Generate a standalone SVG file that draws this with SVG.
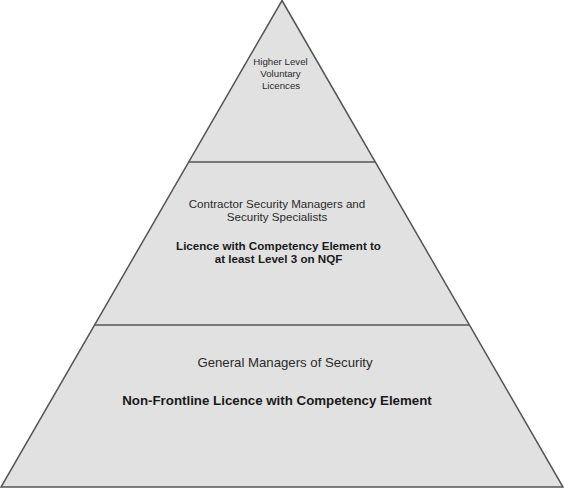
<svg xmlns="http://www.w3.org/2000/svg" width="564" height="488" viewBox="0 0 564 488">
<style>
.tier{fill:#e1e1e1;stroke:none}
.edge{fill:none;stroke:#555;stroke-width:1.5;stroke-linejoin:miter}
.div{stroke:#555;stroke-width:1.5}
text{font-family:"Liberation Sans",Arial,sans-serif;fill:#2a2a2a;text-anchor:middle}
.b{font-weight:bold;fill:#1a1a1a}
.s{font-size:9.7px}
</style>
<rect width="564" height="488" fill="#fff"/>
<g id="tier-top">
<polygon class="tier" points="282,0 375.5,162 188.5,162"/>
<text class="s" x="280.5" y="65">Higher Level</text>
<text class="s" x="280.5" y="77">Voluntary</text>
<text class="s" x="281" y="89">Licences</text>
</g>
<g id="tier-middle">
<polygon class="tier" points="188.5,162 375.5,162 469,325 94.5,325"/>
<text font-size="11.6" x="277" y="208">Contractor Security Managers and</text>
<text font-size="11.6" x="277" y="221">Security Specialists</text>
<text class="b" font-size="11.6" x="278.5" y="250">Licence with Competency Element to</text>
<text class="b" font-size="11.6" x="278.5" y="263">at least Level 3 on NQF</text>
</g>
<g id="tier-bottom">
<polygon class="tier" points="94.5,325 469,325 563,487 1,487"/>
<text font-size="13.2" x="285" y="367">General Managers of Security</text>
<text class="b" font-size="13.3" x="277" y="405">Non-Frontline Licence with Competency Element</text>
</g>
<g id="connectors">
<polygon class="edge" points="282,0.5 563,487 1,487"/>
<line class="div" x1="188.5" y1="162" x2="375.5" y2="162"/>
<line class="div" x1="94.5" y1="325" x2="469" y2="325"/>
</g>
</svg>
